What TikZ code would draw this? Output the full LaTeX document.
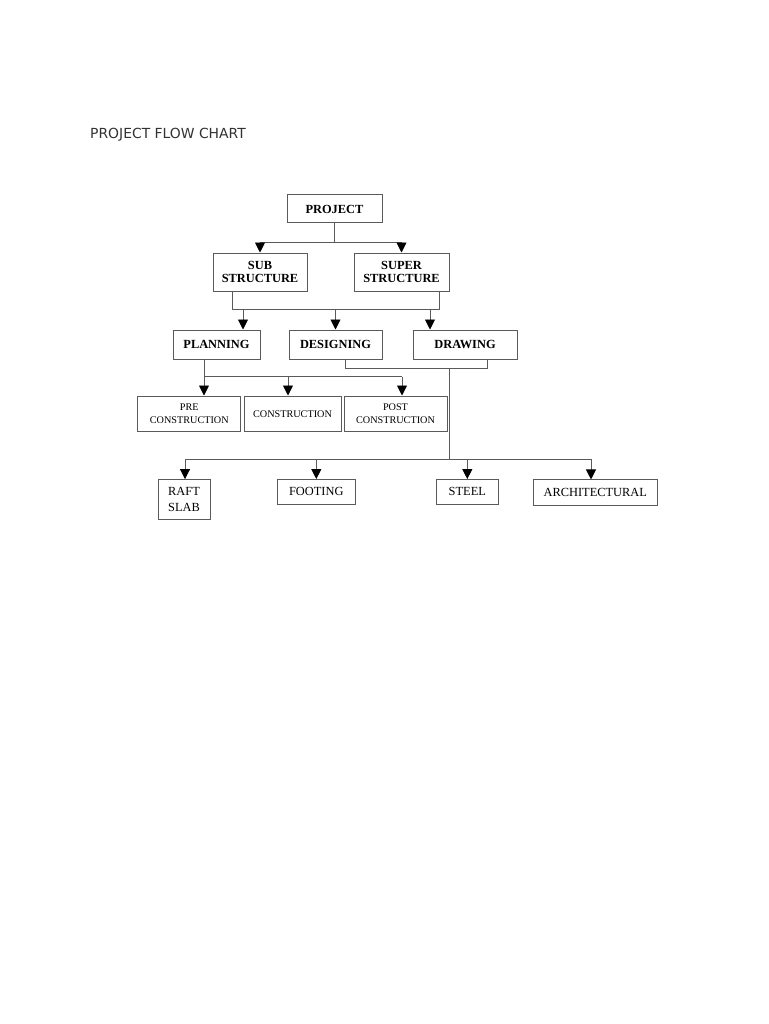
\documentclass[tikz,border=0pt]{standalone}
\usepackage{fontspec}
\setmainfont{Liberation Serif}
\newfontfamily\titlefont{DejaVu Sans}
\usetikzlibrary{arrows.meta}

\definecolor{lineColor}{RGB}{90,90,90}
\definecolor{titleColor}{RGB}{50,50,50}

\tikzset{
  box/.style={draw=lineColor, line width=1pt, inner sep=0pt, align=center,
    font=\bfseries\fontsize{12.4}{13.5}\selectfont},
  stageBox/.style={box, font=\fontsize{10.2}{13}\selectfont},
  leafBox/.style={box, font=\fontsize{12.4}{16.5}\selectfont},
  wire/.style={draw=lineColor, line width=0.9pt},
  feed/.style={wire, -{Triangle[length=10pt,width=10pt,black]}}
}

\begin{document}
\begin{tikzpicture}[x=1pt,y=-1pt]
  \useasboundingbox (0,0) rectangle (768,1024);
  \node[anchor=base west, inner sep=0pt, font=\titlefont\fontsize{13.9}{16}\selectfont, text=titleColor]
    (title) at (90,138.3) {PROJECT FLOW CHART};
  % Boxes
  \node[box, minimum width=95pt, minimum height=28pt] (project) at (334.5,209) {PROJECT};
  \node[box, minimum width=94pt, minimum height=38pt] (subStruct) at (260,272) {SUB\\STRUCTURE};
  \node[box, minimum width=95pt, minimum height=38pt] (superStruct) at (401.5,272) {SUPER\\STRUCTURE};
  \node[box, minimum width=87pt, minimum height=29pt] (planning) at (216.5,344.5) {PLANNING};
  \node[box, minimum width=93pt, minimum height=29pt] (designing) at (335.5,344.5) {DESIGNING};
  \node[box, minimum width=104pt, minimum height=29pt] (drawing) at (465,344.5) {DRAWING};
  \node[stageBox, minimum width=103pt, minimum height=35.6pt] (preCon) at (189.3,413.8) {PRE\\CONSTRUCTION};
  \node[stageBox, minimum width=97pt, minimum height=35.6pt] (construction) at (292.5,413.8) {CONSTRUCTION};
  \node[stageBox, minimum width=103pt, minimum height=35.6pt] (postCon) at (395.5,413.8) {POST\\CONSTRUCTION};
  \node[leafBox, minimum width=52pt, minimum height=39.5pt] (raftSlab) at (184,499.3) {RAFT\\SLAB};
  \node[leafBox, minimum width=78.5pt, minimum height=24.5pt] (footing) at (316.3,491.8) {FOOTING};
  \node[leafBox, minimum width=61.5pt, minimum height=24.5pt] (steel) at (467.3,491.8) {STEEL};
  \node[leafBox, minimum width=123.4pt, minimum height=25.7pt] (architectural) at (595.3,492.8) {ARCHITECTURAL};
  % Project to structures
  \coordinate (busA) at (334.5,242);
  \draw[wire] (project.south) -- (busA);
  \draw[feed] (busA) -| (subStruct.north);
  \draw[feed] (busA) -| (superStruct.north);
  % Structures to planning, designing, drawing
  \coordinate (busBl) at (232,309);
  \coordinate (busBr) at (439,309);
  \draw[wire] (subStruct.south -| busBl) -- (busBl) -- (busBr) -- (superStruct.south -| busBr);
  \coordinate (tapPlan) at (243,309);
  \coordinate (tapDraw) at (430,309);
  \draw[feed] (tapPlan) -- (planning.north -| tapPlan);
  \draw[feed] (designing.north |- busBl) -- (designing.north);
  \draw[feed] (tapDraw) -- (drawing.north -| tapDraw);
  % Planning to stages
  \coordinate (busCl) at (204,376.5);
  \coordinate (busCr) at (402,376.5);
  \coordinate (tapCon) at (288,376.5);
  \draw[wire] (planning.south -| busCl) -- (busCl) -- (busCr);
  \draw[feed] (busCl) -- (preCon.north -| busCl);
  \draw[feed] (tapCon) -- (construction.north -| tapCon);
  \draw[feed] (busCr) -- (postCon.north -| busCr);
  % Designing and drawing to outputs
  \coordinate (busDl) at (345,368);
  \coordinate (busDr) at (487,368);
  \coordinate (busDm) at (449,368);
  \coordinate (busE) at (449,459);
  \draw[wire] (designing.south -| busDl) -- (busDl) -- (busDr) -- (drawing.south -| busDr);
  \draw[wire] (busDm) -- (busE);
  \coordinate (busEl) at (185,459);
  \coordinate (busEr) at (591,459);
  \draw[wire] (busEl) -- (busEr);
  \draw[feed] (busEl) -- (raftSlab.north -| busEl);
  \draw[feed] (footing.north |- busE) -- (footing.north);
  \draw[feed] (steel.north |- busE) -- (steel.north);
  \draw[feed] (busEr) -- (architectural.north -| busEr);
\end{tikzpicture}
\end{document}
